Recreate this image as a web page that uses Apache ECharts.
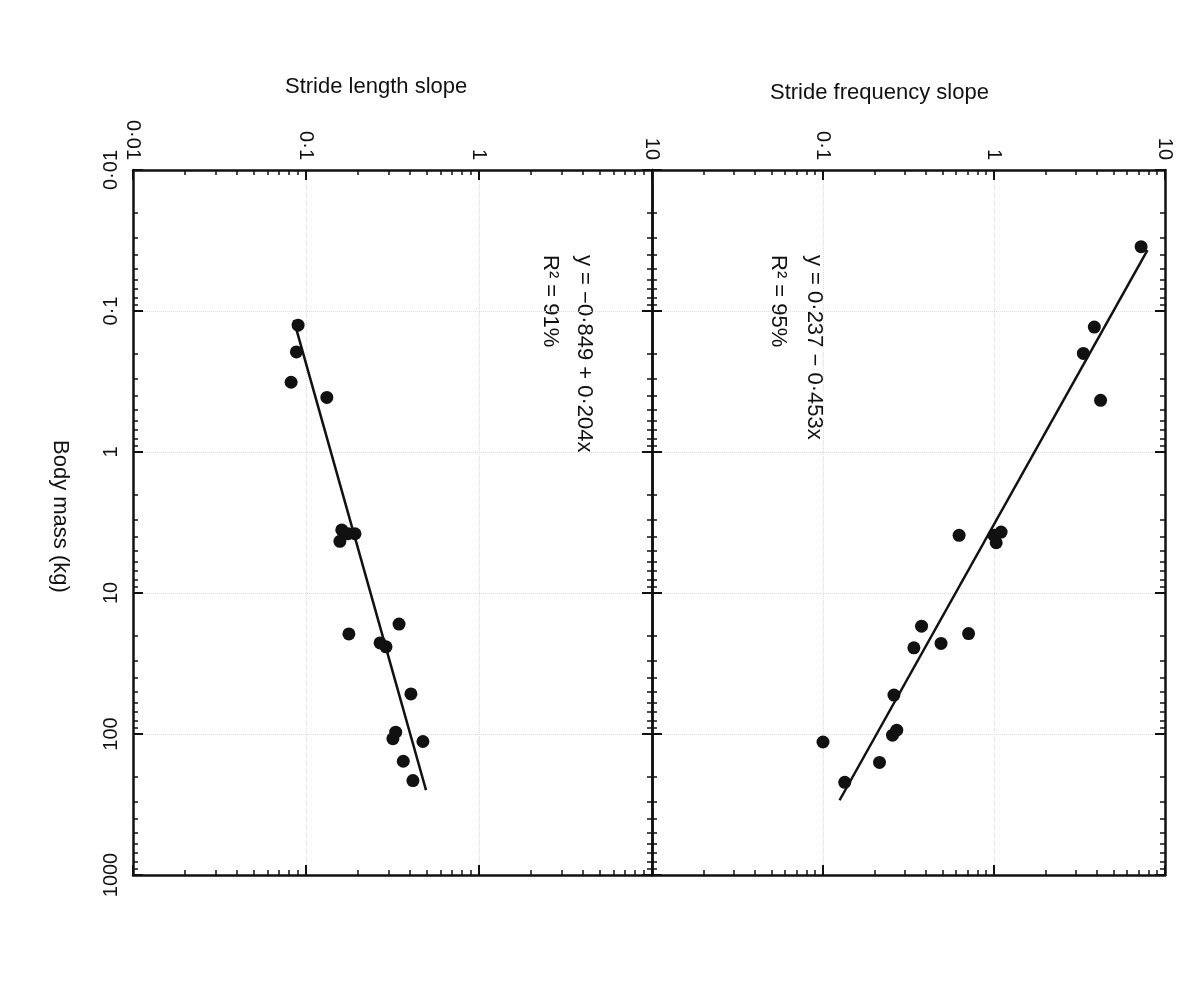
<!DOCTYPE html>
<html><head><meta charset="utf-8">
<script src="https://cdn.jsdelivr.net/npm/echarts@6/dist/echarts.min.js"></script>
<style>html,body{margin:0;padding:0;background:#fff}#c{width:1202px;height:986px}</style>
</head><body><div id="c"></div>
<script>
// [stride slope, body mass kg]
const lengthPoints = [[0.09,0.126],[0.088,0.195],[0.082,0.32],[0.132,0.41],[0.161,3.57],[0.157,4.3],[0.192,3.8],[0.175,3.8],[0.177,19.5],[0.345,16.6],[0.268,22.6],[0.29,24.1],[0.404,52],[0.33,97],[0.318,108],[0.474,113],[0.365,156],[0.415,214]];
const lengthLine = [[0.085,0.116],[0.494,250]];
const freqPoints = [[7.25,0.035],[3.86,0.13],[3.33,0.2],[4.2,0.43],[0.625,3.9],[1.0,3.9],[1.03,4.4],[1.1,3.7],[0.34,24.5],[0.377,17.2],[0.49,22.8],[0.71,19.4],[0.26,53],[0.255,102],[0.27,94],[0.214,159],[0.134,220],[0.1,114]];
const freqLine = [[7.9,0.037],[0.125,295]];
const slopeRange = [0.01, 10];
const massRange = [0.01, 1000];

const fmt = v => String(+v.toPrecision(3)).replace('.', '·');
const F = 'Liberation Sans, Arial, sans-serif';
const tickStyle = {show:true, inside:true, length:10, lineStyle:{color:'#111', width:2}};
const minor = {show:true, splitNumber:9, length:5, lineStyle:{color:'#111', width:1.5}};
const line = {show:true, lineStyle:{color:'#111', width:2.5}};
const split = {show:true, lineStyle:{color:'#ddd', type:'dotted', width:1}};
function xA(grid, pos, labels, showMin){
  return {type:'log', logBase:10, gridIndex:grid, position:pos, min:slopeRange[0], max:slopeRange[1],
    axisLine:line, axisTick:tickStyle, minorTick:minor, splitLine: pos==='top'?split:{show:false},
    axisLabel:{show:labels, rotate:90, formatter:fmt, fontSize:20, color:'#111', fontFamily:F, margin:10, showMinLabel:showMin}};
}
function yA(grid, pos, labels){
  return {type:'log', logBase:10, gridIndex:grid, position:pos, inverse:true, min:massRange[0], max:massRange[1],
    axisLine:line, axisTick:tickStyle, minorTick:minor, splitLine: pos==='left'?split:{show:false},
    axisLabel:{show:labels, rotate:90, formatter:fmt, fontSize:20, color:'#111', fontFamily:F, margin:12}};
}
const chart = echarts.init(document.getElementById('c'));
const txt = (x,y,t,size) => ({type:'text', x, y, rotation:-Math.PI/2, style:{text:t, fontSize:size||22, fontFamily:F, fill:'#111', textAlign:'left', textVerticalAlign:'middle'}});
chart.setOption({
  animation:false,
  grid:[{left:133, top:170, width:519, height:705},{left:652, top:170, width:513, height:705}],
  xAxis:[xA(0,'top',true,true), xA(0,'bottom',false,true), xA(1,'top',true,false), xA(1,'bottom',false,false)],
  yAxis:[yA(0,'left',true), yA(0,'right',false), yA(1,'left',false), yA(1,'right',false)],
  series:[
    {type:'scatter', xAxisIndex:0, yAxisIndex:0, data:lengthPoints, symbolSize:13, itemStyle:{color:'#111', opacity:1}},
    {type:'line', xAxisIndex:0, yAxisIndex:0, data:lengthLine, symbol:'none', lineStyle:{color:'#111', width:2.5}},
    {type:'scatter', xAxisIndex:2, yAxisIndex:2, data:freqPoints, symbolSize:13, itemStyle:{color:'#111', opacity:1}},
    {type:'line', xAxisIndex:2, yAxisIndex:2, data:freqLine, symbol:'none', lineStyle:{color:'#111', width:2.5}}
  ],
  graphic:[
    {type:'text', style:{text:'Stride length slope', fontSize:22, fontFamily:F, fill:'#111'}, left:285, top:76},
    {type:'text', style:{text:'Stride frequency slope', fontSize:22, fontFamily:F, fill:'#111'}, left:770, top:82},
    txt(60, 440, 'Body mass (kg)'),
    txt(584, 255, 'y = −0·849 + 0·204x'),
    txt(550, 255, 'R² = 91%'),
    txt(814, 255, 'y = 0·237 − 0·453x'),
    txt(778, 255, 'R² = 95%')
  ]
});
</script></body></html>
